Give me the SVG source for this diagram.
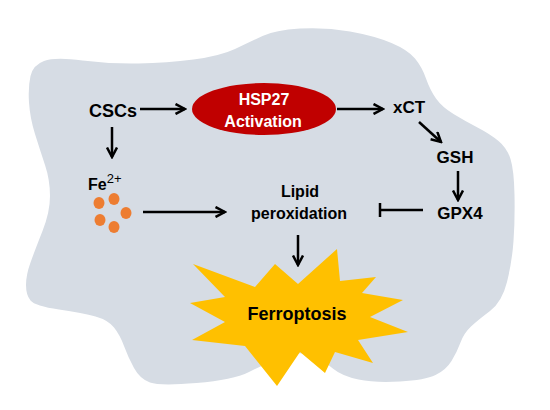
<svg xmlns="http://www.w3.org/2000/svg" width="550" height="410" viewBox="0 0 550 410">
<style>
.t{font-family:"Liberation Sans",Arial,sans-serif;font-weight:bold;fill:#000;text-anchor:middle}
.w{fill:#fff}
.ln{stroke:#000;stroke-width:2.5;fill:none}
</style>
<defs>
<marker id="ah" viewBox="0 0 12 12" refX="10.5" refY="6" markerWidth="12" markerHeight="12" orient="auto" markerUnits="userSpaceOnUse">
<path d="M1,1 L10.5,6 L1,11" fill="none" stroke="#000" stroke-width="2.5"/>
</marker>
</defs>
<rect width="550" height="410" fill="#fff"/>
<g id="cell">
<path fill="#D6DCE4" d="M29,102.5 Q28,87 30.5,76 Q33,65 44,61 Q55,57 82.5,60.5 Q110,64 138.5,63.5 Q167,63 193.5,59.5 Q220,56 235,49 Q250,42 262.5,36 Q275,30 300,28.5 Q325,27 350,31.5 Q375,36 391.5,43 Q408,50 415,58.5 Q422,67 426,78.5 Q430,90 436,98.5 Q442,107 453.5,114 Q465,121 477.5,127.5 Q490,134 498.5,141 Q507,148 510.5,159 Q514,170 514.5,195 Q515,220 513.5,241 Q512,262 507,282 Q502,302 490,311 Q478,320 471,326.5 Q464,333 460.5,342.5 Q457,352 451.5,361 Q446,370 435.5,375 Q425,380 400,381.5 Q375,383 358.5,379.5 Q342,376 333.5,369 Q325,362 312.5,356 Q300,350 282.5,357 Q265,364 249,372 Q233,380 196.5,383 Q160,386 150,382.5 Q140,379 134,368 Q128,357 124,346 Q120,335 114,327.5 Q108,320 95.5,316.5 Q83,313 59,309.5 Q35,306 30.5,300.5 Q26,295 26,285 Q26,275 30.5,262.5 Q35,250 42.5,231 Q50,212 50,196 Q50,180 45,165 Q40,150 35,134 Q30,118 29,102.5 Z"/>
</g>
<g id="ferroptosis">
<polygon fill="#FFC000" points="193,264 255,287 275,264 298,284 337,249 340,281 376,277 362,293 403,300 370,317 408,332 358,340 373,363 335,352 325,373 300,352 277,386 245,346 192,340 225,322 190,303 225,297"/>
<text class="t" x="297" y="320" font-size="18">Ferroptosis</text>
</g>
<g id="cscs"><text class="t" x="113" y="117" font-size="18">CSCs</text></g>
<g id="hsp27">
<ellipse cx="264" cy="109" rx="72" ry="26" fill="#C00000"/>
<text class="t w" x="264" y="105" font-size="16">HSP27</text>
<text class="t w" x="263" y="127" font-size="16">Activation</text>
</g>
<g id="xct"><text class="t" x="409" y="113" font-size="17">xCT</text></g>
<g id="gsh"><text class="t" x="455" y="163" font-size="17">GSH</text></g>
<g id="gpx4"><text class="t" x="460" y="219" font-size="17">GPX4</text></g>
<g id="lipid">
<text class="t" x="300" y="197" font-size="16">Lipid</text>
<text class="t" x="299" y="219" font-size="16">peroxidation</text>
</g>
<g id="fe">
<text class="t" x="88" y="190" font-size="16" style="text-anchor:start">Fe<tspan dy="-7" font-size="13" font-weight="normal">2+</tspan></text>
<g fill="#ED7D31">
<ellipse cx="99" cy="203" rx="5.5" ry="6"/>
<ellipse cx="114" cy="199" rx="5.5" ry="6"/>
<ellipse cx="126" cy="213" rx="5.5" ry="6"/>
<ellipse cx="100" cy="220" rx="5.5" ry="6"/>
<ellipse cx="114" cy="227" rx="5.5" ry="6"/>
</g>
</g>
<g id="connectors" class="ln">
<line class="ln" x1="140" y1="109" x2="185" y2="109" marker-end="url(#ah)"/>
<line class="ln" x1="337" y1="109" x2="383" y2="109" marker-end="url(#ah)"/>
<line class="ln" x1="419" y1="122" x2="441" y2="142" marker-end="url(#ah)"/>
<line class="ln" x1="458" y1="171" x2="458" y2="200" marker-end="url(#ah)"/>
<line class="ln" x1="112" y1="127" x2="112" y2="157" marker-end="url(#ah)"/>
<line class="ln" x1="143" y1="212" x2="225" y2="212" marker-end="url(#ah)"/>
<line class="ln" x1="298" y1="235" x2="298" y2="265" marker-end="url(#ah)"/>
<line class="ln" x1="423" y1="210" x2="380" y2="210"/>
<line class="ln" x1="380" y1="203" x2="380" y2="217"/>
</g>
</svg>
